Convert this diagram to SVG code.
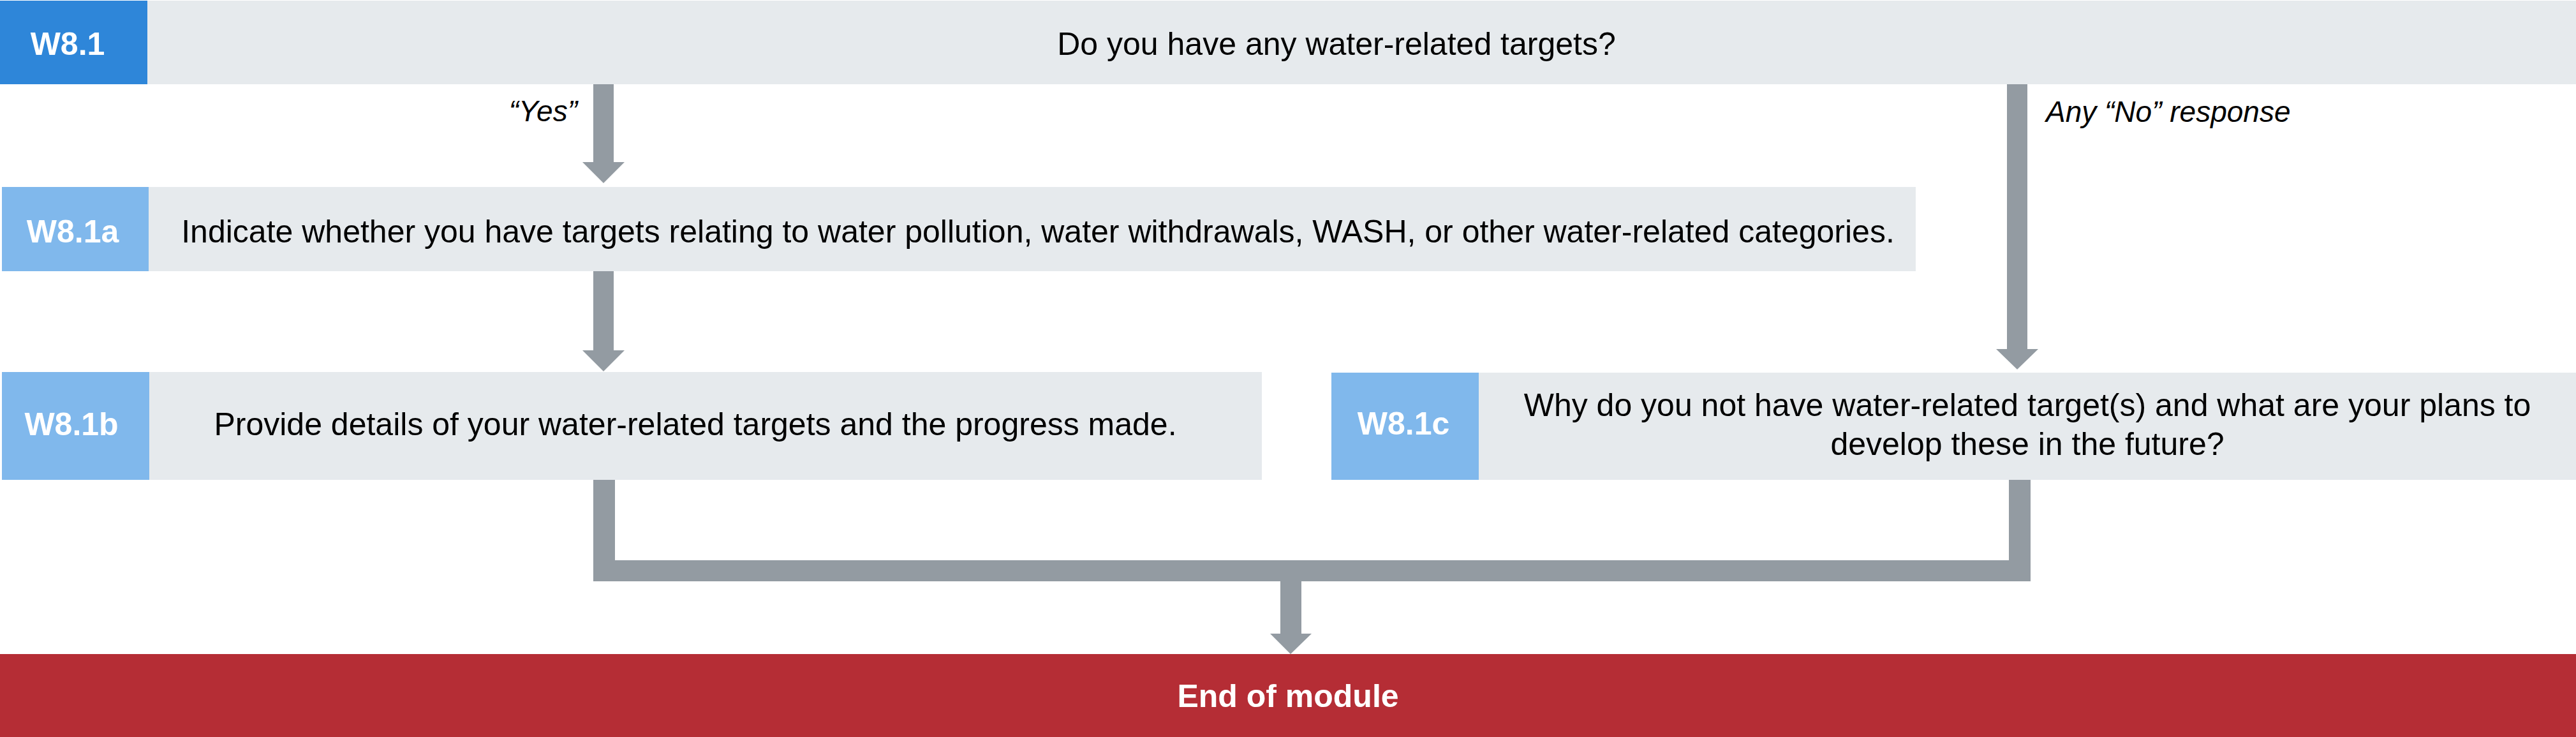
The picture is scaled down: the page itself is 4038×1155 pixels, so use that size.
<svg xmlns="http://www.w3.org/2000/svg" width="4038" height="1155" viewBox="0 0 4038 1155">
<style>
.q{fill:#E6EAED}
.id1{fill:#2E86D9}
.id2{fill:#80B8EC}
.idt{font-family:"Liberation Sans",Arial,Helvetica,sans-serif;font-weight:bold;font-size:50px;fill:#FFFFFF;text-anchor:middle}
.txt{font-family:"Liberation Sans",Arial,Helvetica,sans-serif;font-size:50px;fill:#000000;text-anchor:middle}
.lbl{font-family:"Liberation Sans",Arial,Helvetica,sans-serif;font-style:italic;font-size:46px;fill:#000000}
.con{fill:#939BA2}
</style>
<rect x="0" y="0" width="4038" height="1155" fill="#FFFFFF"/>
<g id="connectors">
  <rect class="con" x="930" y="131" width="32" height="124"/>
  <polygon class="con" points="913,254 979,254 946,287"/>
  <rect class="con" x="3146" y="131" width="32" height="417"/>
  <polygon class="con" points="3129,547 3195,547 3162,579"/>
  <rect class="con" x="930" y="425" width="32" height="125"/>
  <polygon class="con" points="913,549 979,549 946,582"/>
  <rect class="con" x="930" y="752" width="34" height="159"/>
  <rect class="con" x="3149" y="752" width="34" height="159"/>
  <rect class="con" x="930" y="878" width="2253" height="33"/>
  <rect class="con" x="2007" y="910" width="33" height="84"/>
  <polygon class="con" points="1991,993 2056,993 2023,1025"/>
  <text class="lbl" x="905" y="190" text-anchor="end">“Yes”</text>
  <text class="lbl" x="3207" y="191">Any “No” response</text>
</g>
<g id="W8.1">
  <rect class="q" x="231" y="1" width="3807" height="131"/>
  <rect class="id1" x="0" y="1" width="231" height="131"/>
  <text class="idt" x="106" y="86">W8.1</text>
  <text class="txt" x="2095" y="86">Do you have any water-related targets?</text>
</g>
<g id="W8.1a">
  <rect class="q" x="233" y="293" width="2770" height="132"/>
  <rect class="id2" x="3" y="293" width="230" height="132"/>
  <text class="idt" x="114" y="380">W8.1a</text>
  <text class="txt" x="1627" y="380">Indicate whether you have targets relating to water pollution, water withdrawals, WASH, or other water-related categories.</text>
</g>
<g id="W8.1b">
  <rect class="q" x="234" y="583" width="1744" height="169"/>
  <rect class="id2" x="3" y="583" width="231" height="169"/>
  <text class="idt" x="112" y="682">W8.1b</text>
  <text class="txt" x="1090" y="682">Provide details of your water-related targets and the progress made.</text>
</g>
<g id="W8.1c">
  <rect class="q" x="2318" y="584" width="1720" height="168"/>
  <rect class="id2" x="2087" y="584" width="231" height="168"/>
  <text class="idt" x="2200" y="681">W8.1c</text>
  <text class="txt" x="3178" y="652">Why do you not have water-related target(s) and what are your plans to</text>
  <text class="txt" x="3178" y="713">develop these in the future?</text>
</g>
<g id="end">
  <rect x="0" y="1025" width="4038" height="130" fill="#B52D35"/>
  <text class="idt" x="2019" y="1108">End of module</text>
</g>
</svg>
